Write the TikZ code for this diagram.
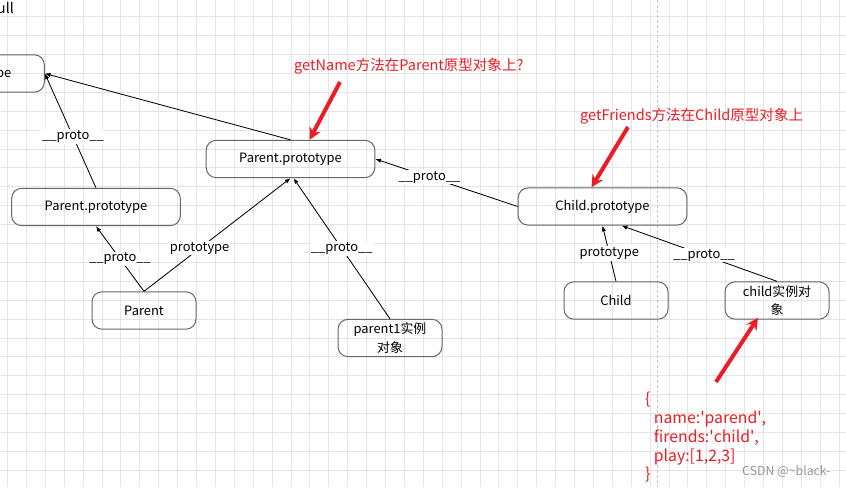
\documentclass[tikz,border=0pt]{standalone}
\usepackage{fontspec}
\setmainfont{Noto Sans CJK SC}
\usetikzlibrary{arrows.meta,calc}

\definecolor{r237g28b36}{RGB}{237,28,36}
\definecolor{r102g102b102}{RGB}{102,102,102}
\definecolor{r228g228b228}{RGB}{228,228,228}
\definecolor{r200g200b200}{RGB}{200,200,200}
\definecolor{r150g150b150}{RGB}{150,150,150}

\begin{document}
\begin{tikzpicture}[x=0.3mm,y=-0.3mm,
  protobox/.style={draw=r102g102b102, line width=0.3mm, rounded corners=3mm,
    minimum height=11.2mm, inner sep=0pt, align=center,
    font=\fontsize{11}{16}\selectfont},
  widebox/.style={protobox, minimum width=50.6mm},
  smallbox/.style={protobox, minimum width=31.2mm},
  link/.style={line width=0.25mm, -{Latex[length=1.7mm,width=1.3mm]}},
  linklabel/.style={fill=white, inner sep=1pt, font=\fontsize{11}{13}\selectfont},
  redarrow/.style={draw=r237g28b36, line width=1.2mm, -{Stealth[length=3.6mm,width=3.6mm]}},
  rednote/.style={text=r237g28b36, inner sep=0pt, font=\fontsize{12.4}{15}\selectfont},
  gridline/.style={draw=r228g228b228, line width=0.25mm}]
  \useasboundingbox (0,0) rectangle (846,487);
  \clip (0,0) rectangle (846,487);

  % Drawing grid
  \foreach \i in {0,...,44}
    \draw[gridline] ({7.5+18.9*\i},0) -- ++(0,487);
  \foreach \j in {1,...,25}
    \draw[gridline] (0,{-2.2+18.9*\j}) -- ++(846,0);

  % Drawing dashed separator
  \draw[draw=r200g200b200, line width=0.25mm, dash pattern=on 0.9mm off 0.6mm] (657,0) -- (657,487);

  % Placing boxes
  \node[anchor=east, inner sep=0pt, font=\fontsize{12}{14}\selectfont] (null) at (14,8) {null};
  \node[widebox] (objproto) at (-40,73.5) {Object.prototype};
  \node[widebox] (pprotoleft) at (96,207) {Parent.prototype};
  \node[widebox] (pproto) at (290.5,159) {Parent.prototype};
  \node[smallbox] (parent) at (144,310.5) {Parent};
  \node[smallbox] (parentobj) at (390,338) {parent1实例\\对象};
  \node[widebox] (cproto) at (602.5,206.5) {Child.prototype};
  \node[smallbox] (child) at (616,300.5) {Child};
  \node[smallbox] (childobj) at (777,300.5) {child实例对\\象};

  % Drawing links
  \draw[link] (pprotoleft.north) -- node[linklabel, pos=0.45] {\_\_proto\_\_} (objproto.east);
  \draw[link] (pproto.north) -- (objproto.east);
  \draw[link] (parent.north) -- node[linklabel] {\_\_proto\_\_} (pprotoleft.south);
  \draw[link] (parent.north) -- node[linklabel, pos=0.38] {prototype} (pproto.south);
  \draw[link] (parentobj.north) -- node[linklabel] {\_\_proto\_\_} ([xshift=0.9mm]pproto.south);
  \draw[link] (cproto.west) -- node[linklabel, pos=0.62] {\_\_proto\_\_} (pproto.east);
  \draw[link] (child.north) -- node[linklabel] {prototype} (cproto.south);
  \draw[link] (childobj.north) -- node[linklabel, pos=0.47] {\_\_proto\_\_} (cproto.-45);

  % Red notes
  \node[rednote, anchor=west] (getname) at (294,66) {getName方法在Parent原型对象上?};
  \coordinate (getnametail) at (340,82);
  \draw[redarrow] (getnametail) -- ($(pproto.north)+(19,0)$);

  \node[rednote, anchor=west] (getfriends) at (580,116) {getFriends方法在Child原型对象上};
  \coordinate (getfriendstail) at (628,127);
  \draw[redarrow] (getfriendstail) -- ($(cproto.north)+(-11,0)$);

  \coordinate (datatail) at (716,382);
  \draw[redarrow] (datatail) -- ($(childobj.south)+(-19,-2)$);
  \node[rednote, anchor=north west, align=left, font=\fontsize{13.5}{16}\selectfont] (data) at (645,392)
    {\{\\
     \hspace*{2.6mm}name:\textquotesingle parend\textquotesingle,\\
     \hspace*{2.6mm}firends:\textquotesingle child\textquotesingle,\\
     \hspace*{2.6mm}play:[1,2,3]\\
     \}};

  % Watermark
  \node[anchor=west, inner sep=0pt, text=r150g150b150, font=\fontsize{10.5}{13}\selectfont] (watermark) at (742,472) {CSDN @\textasciitilde black-};
\end{tikzpicture}
\end{document}
